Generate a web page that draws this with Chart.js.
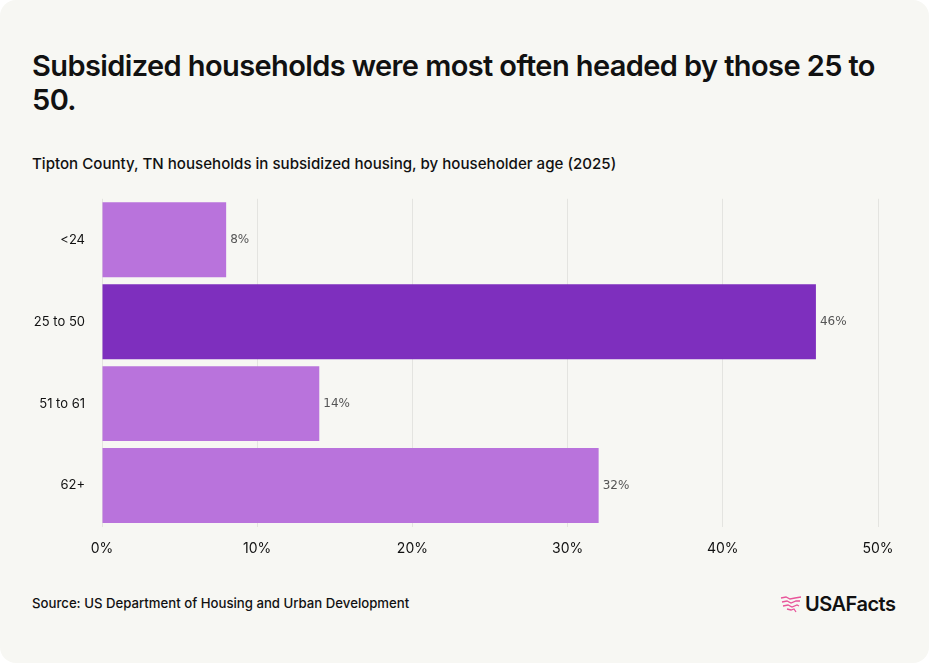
<!DOCTYPE html>
<html>
<head>
<meta charset="utf-8">
<script src="https://cdn.jsdelivr.net/npm/chart.js@4.4.1/dist/chart.umd.min.js"></script>
<style>
  html, body { margin: 0; padding: 0; background: #ffffff; }
  #card {
    position: relative; width: 929px; height: 663px; background: #f7f7f3;
    border-radius: 16px; overflow: hidden; font-family: Inter, "Noto Sans", sans-serif; color: #111;
  }
  #title {
    position: absolute; left: 32px; top: 49px; width: 880px;
    font-size: 29px; font-weight: 600; line-height: 34px; letter-spacing: -0.6px;
  }
  #subtitle {
    position: absolute; left: 32px; top: 154px; font-size: 15.1px; font-weight: 500; letter-spacing: 0px;
  }
  #chartBox { position: absolute; left: 0; top: 174px; width: 929px; height: 396px; }
  #source {
    position: absolute; left: 32px; top: 595px; font-size: 13.2px; font-weight: 500; letter-spacing: 0px;
  }
  #logo {
    position: absolute; left: 780px; top: 592px; font-size: 20px; font-weight: 600; letter-spacing: -0.5px;
    display: flex; align-items: center; gap: 3px;
  }
</style>
</head>
<body>
<div id="card">
  <div id="title">Subsidized households were most often headed by those 25 to<br>50.</div>
  <div id="subtitle">Tipton County, TN households in subsidized housing, by householder age (2025)</div>
  <div id="chartBox"><canvas id="resultChart"></canvas></div>
  <div id="source">Source: US Department of Housing and Urban Development</div>
  <div id="logo">
    <svg width="22" height="18" viewBox="0 0 22 18">
      <g fill="none" stroke="#e8559a" stroke-width="1.3">
        <path d="M1 3 L6 2 L10 4 L15 3 L21 2"/>
        <path d="M2 7 L7 6 L11 8 L16 6 L20 6"/>
        <path d="M3 11 L8 10 L12 12 L17 10 L19 11"/>
        <path d="M7 14 L11 15 L14 14 L16 17"/>
      </g>
    </svg>
    <span>USAFacts</span>
  </div>
</div>
<script>
const categories = ['<24', '25 to 50', '51 to 61', '62+'];
const shares = [8, 46, 14, 32];
const barColors = ['#b973dc', '#7e2fbe', '#b973dc', '#b973dc'];
const xTicks = [0, 10, 20, 30, 40, 50];

const valueLabels = {
    id: 'valueLabels',
    afterDatasetsDraw(chart) {
        const ctx = chart.ctx;
        const meta = chart.getDatasetMeta(0);
        ctx.save();
        ctx.font = '12px "DejaVu Sans", sans-serif';
        ctx.fillStyle = '#555555';
        ctx.textAlign = 'left';
        ctx.textBaseline = 'middle';
        meta.data.forEach((bar, i) => {
            ctx.fillText(shares[i] + '%', bar.x + 4, bar.y);
        });
        ctx.restore();
    }
};

const ctx = document.getElementById('resultChart').getContext('2d');
new Chart(ctx, {
    type: 'bar',
    data: {
        labels: categories,
        datasets: [{
            data: shares,
            backgroundColor: barColors,
            borderWidth: 0,
            barPercentage: 0.915,
            categoryPercentage: 1
        }]
    },
    options: {
        indexAxis: 'y',
        responsive: true,
        maintainAspectRatio: false,
        animation: false,
        layout: { padding: { top: 8.5, right: 51, left: 0, bottom: 0 } },
        plugins: { legend: { display: false }, tooltip: { enabled: false } },
        scales: {
            x: {
                min: 0,
                max: 50,
                afterFit(scale) { scale.height = 43.5; },
                afterBuildTicks(scale) { scale.ticks = xTicks.map(v => ({ value: v })); },
                grid: { color: '#e4e4e0', drawTicks: false },
                border: { display: false },
                ticks: {
                    padding: 14,
                    color: '#111',
                    font: { family: 'Inter', size: 14 },
                    callback: v => v + '%'
                }
            },
            y: {
                afterFit(scale) { scale.width = 102; },
                grid: { display: false, drawTicks: false },
                border: { display: false },
                ticks: {
                    padding: 17,
                    color: '#111',
                    font: { family: 'Inter', size: 13 }
                }
            }
        }
    },
    plugins: [valueLabels]
});
</script>
</body>
</html>
